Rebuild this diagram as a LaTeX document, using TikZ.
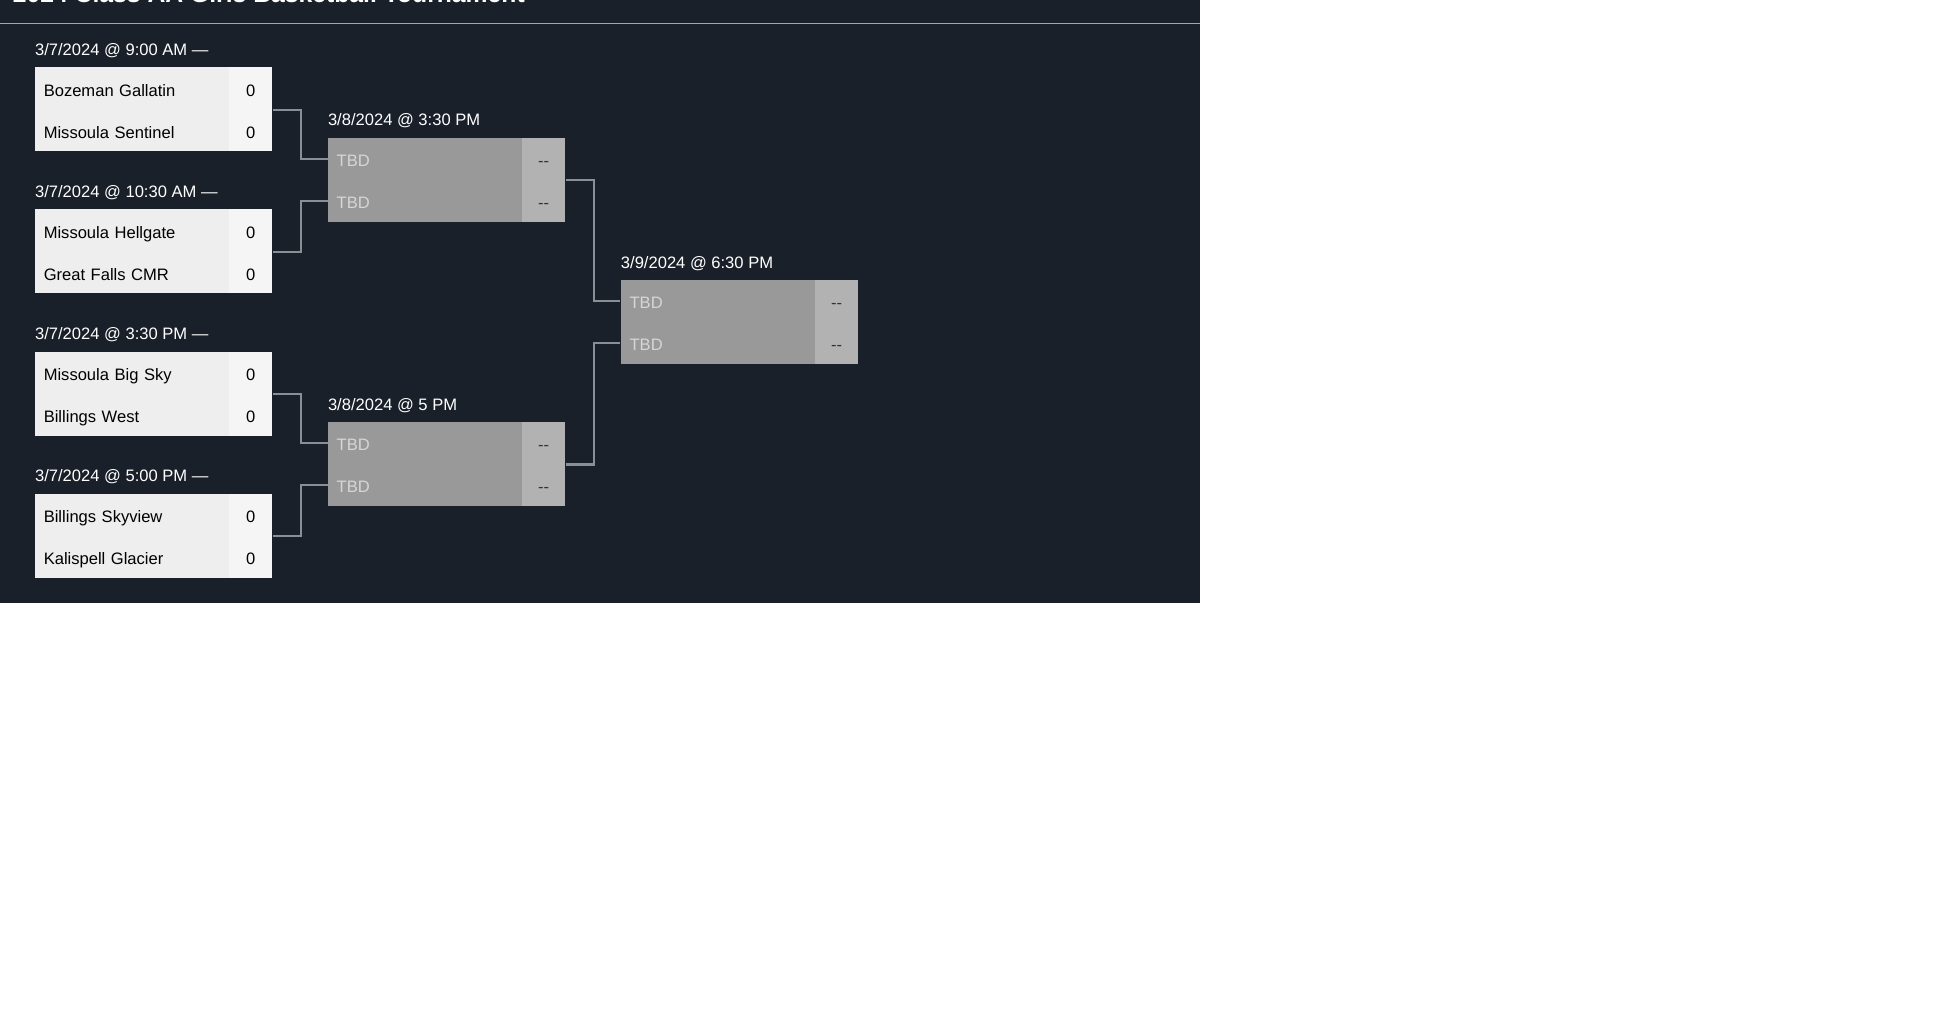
\documentclass[tikz,border=0pt]{standalone}
\usepackage{fontspec}
\setmainfont{Liberation Sans}
\definecolor{bgdark}{HTML}{1A2029}
\definecolor{rowA}{HTML}{EEEEEE}
\definecolor{scoreA}{HTML}{F5F5F5}
\definecolor{rowB}{HTML}{999999}
\definecolor{scoreB}{HTML}{B2B2B2}
\definecolor{tbd}{HTML}{D6D6D6}
\definecolor{conn}{HTML}{8A8F96}
\begin{document}
\begin{tikzpicture}[x=0.5pt,y=-0.5pt,
  namecell/.style={draw=none,minimum width=157*0.5pt,minimum height=34*0.5pt,inner sep=0pt,anchor=north west,text width=143*0.5pt,align=left,text height=1.5ex,text depth=0.3ex,font=\fontsize{6.7}{7}\selectfont},
  scorecell/.style={draw=none,minimum width=35*0.5pt,minimum height=34*0.5pt,inner sep=0pt,anchor=north west,text height=1.5ex,text depth=0.3ex,font=\fontsize{6.7}{7}\selectfont},
  datelbl/.style={anchor=west,inner sep=0pt,text=white,font=\fontsize{6.7}{7}\selectfont},
  conline/.style={draw=conn,line width=0.9pt}]
\useasboundingbox (0,0) rectangle (1568,823);
\fill[white] (0,0) rectangle (1568,823);
\fill[bgdark] (0,0) rectangle (971,488);
\begin{scope}
\clip (0,0) rectangle (971,488);
\node[anchor=base west,inner sep=0pt,text=white,font=\bfseries\fontsize{10}{12}\selectfont] (title) at (10,2) {2024 Class AA Girls Basketball Tournament};
\end{scope}
\draw[draw=gray!70,line width=0.6pt] (0,19) -- (971,19);
% round 1
\foreach \i/\t/\d/\a/\b in {1/54/3\slash7\slash2024 @ 9:00 AM —/Bozeman Gallatin/Missoula Sentinel,
  2/169/3\slash7\slash2024 @ 10:30 AM —/Missoula Hellgate/Great Falls CMR,
  3/284/3\slash7\slash2024 @ 3:30 PM —/Missoula Big Sky/Billings West,
  4/399/3\slash7\slash2024 @ 5:00 PM —/Billings Skyview/Kalispell Glacier}{
  \node[datelbl] (d\i) at (28,\t-13) {\d};
  \node[namecell,fill=rowA,text=black] (r\i a) at (28,\t) {\a};
  \node[namecell,fill=rowA,text=black] (r\i b) at (28,\t+34) {\b};
  \node[scorecell,fill=scoreA,text=black] (s\i a) at (185,\t) {0};
  \node[scorecell,fill=scoreA,text=black] (s\i b) at (185,\t+34) {0};
}
% round 2 and 3
\foreach \n/\x/\t/\d in {5/265/111/3\slash8\slash2024 @ 3:30 PM,6/265/341/3\slash8\slash2024 @ 5 PM,7/502/226/3\slash9\slash2024 @ 6:30 PM}{
  \node[datelbl] (d\n) at (\x,\t-13) {\d};
  \node[namecell,fill=rowB,text=tbd] (r\n a) at (\x,\t) {TBD};
  \node[namecell,fill=rowB,text=tbd] (r\n b) at (\x,\t+34) {TBD};
  \node[scorecell,fill=scoreB,text=black!80] (s\n a) at (\x+157,\t) {-{}-};
  \node[scorecell,fill=scoreB,text=black!80] (s\n b) at (\x+157,\t+34) {-{}-};
}
% connectors
\draw[conline] (s1a.south east) -- ++(23,0) |- (r5a.west);
\draw[conline] (s2a.south east) -- ++(23,0) |- (r5b.west);
\draw[conline] (s3a.south east) -- ++(23,0) |- (r6a.west);
\draw[conline] (s4a.south east) -- ++(23,0) |- (r6b.west);
\draw[conline] (s5a.south east) -- ++(23,0) |- (r7a.west);
\draw[conline] (s6a.south east) -- ++(23,0) |- (r7b.west);
\end{tikzpicture}
\end{document}
